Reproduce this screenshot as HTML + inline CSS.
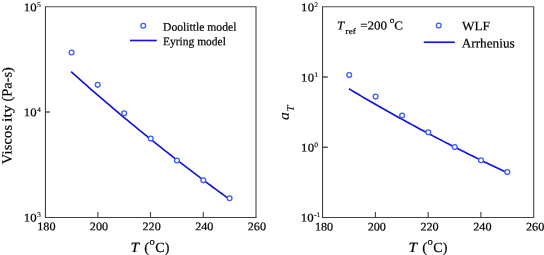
<!DOCTYPE html>
<html><head><meta charset="utf-8"><title>Viscosity and shift factor</title>
<style>html,body{margin:0;padding:0;background:#fff}svg{display:block}text{font-family:"Liberation Serif","DejaVu Serif",serif;fill:#000;stroke:#000;stroke-width:0.2px}.i{font-style:italic}</style></head><body>
<svg width="544" height="255" viewBox="0 0 544 255">
<rect width="544" height="255" fill="#fff"/>
<path d="M45.45 6.70H256.00V217.50" fill="none" stroke="#4c4c4c" stroke-width="1.15"/>
<path d="M45.45 6.70V217.50H256.00" fill="none" stroke="#404040" stroke-width="1.1" stroke-linecap="square"/>
<line x1="97.90" y1="217.50" x2="97.90" y2="212.00" stroke="#404040" stroke-width="1.1"/>
<line x1="150.50" y1="217.50" x2="150.50" y2="212.00" stroke="#404040" stroke-width="1.1"/>
<line x1="203.30" y1="217.50" x2="203.30" y2="212.00" stroke="#404040" stroke-width="1.1"/>
<line x1="45.45" y1="112.00" x2="49.85" y2="112.00" stroke="#404040" stroke-width="1.35"/>
<text transform="translate(46.35,230.20) rotate(0.05) scale(1.050,1)" font-size="11.60" text-anchor="middle">180</text>
<text transform="translate(98.99,230.20) rotate(0.05) scale(1.050,1)" font-size="11.60" text-anchor="middle">200</text>
<text transform="translate(151.63,230.20) rotate(0.05) scale(1.050,1)" font-size="11.60" text-anchor="middle">220</text>
<text transform="translate(204.26,230.20) rotate(0.05) scale(1.050,1)" font-size="11.60" text-anchor="middle">240</text>
<text transform="translate(256.90,230.20) rotate(0.05) scale(1.050,1)" font-size="11.60" text-anchor="middle">260</text>
<path d="M322.55 6.70H533.70V217.50" fill="none" stroke="#4c4c4c" stroke-width="1.15"/>
<path d="M322.55 6.70V217.50H533.70" fill="none" stroke="#404040" stroke-width="1.1" stroke-linecap="square"/>
<line x1="375.40" y1="217.50" x2="375.40" y2="212.00" stroke="#404040" stroke-width="1.1"/>
<line x1="428.15" y1="217.50" x2="428.15" y2="212.00" stroke="#404040" stroke-width="1.1"/>
<line x1="480.90" y1="217.50" x2="480.90" y2="212.00" stroke="#404040" stroke-width="1.1"/>
<line x1="322.55" y1="77.00" x2="327.75" y2="77.00" stroke="#404040" stroke-width="1.35"/>
<line x1="322.55" y1="147.25" x2="327.75" y2="147.25" stroke="#404040" stroke-width="1.35"/>
<text transform="translate(324.00,230.50) rotate(0.05) scale(1.050,1)" font-size="11.60" text-anchor="middle">180</text>
<text transform="translate(376.79,230.50) rotate(0.05) scale(1.050,1)" font-size="11.60" text-anchor="middle">200</text>
<text transform="translate(429.57,230.50) rotate(0.05) scale(1.050,1)" font-size="11.60" text-anchor="middle">220</text>
<text transform="translate(482.36,230.50) rotate(0.05) scale(1.050,1)" font-size="11.60" text-anchor="middle">240</text>
<text transform="translate(535.15,230.50) rotate(0.05) scale(1.050,1)" font-size="11.60" text-anchor="middle">260</text>
<text transform="translate(23.70,11.25) rotate(0.05) scale(1.100,1)" font-size="11.60" letter-spacing="0.20">10</text>
<text transform="translate(36.90,6.95) rotate(0.05) scale(1.120,1)" font-size="7.00" style="stroke-width:0.10px">5</text>
<text transform="translate(23.70,116.20) rotate(0.05) scale(1.100,1)" font-size="11.60" letter-spacing="0.20">10</text>
<text transform="translate(36.90,111.90) rotate(0.05) scale(1.120,1)" font-size="7.00" style="stroke-width:0.10px">4</text>
<text transform="translate(23.70,221.40) rotate(0.05) scale(1.100,1)" font-size="11.60" letter-spacing="0.20">10</text>
<text transform="translate(36.90,217.10) rotate(0.05) scale(1.120,1)" font-size="7.00" style="stroke-width:0.10px">3</text>
<text transform="translate(301.10,11.25) rotate(0.05) scale(1.100,1)" font-size="11.60" letter-spacing="0.20">10</text>
<text transform="translate(314.30,6.95) rotate(0.05) scale(1.120,1)" font-size="7.00" style="stroke-width:0.10px">2</text>
<text transform="translate(301.10,81.40) rotate(0.05) scale(1.100,1)" font-size="11.60" letter-spacing="0.20">10</text>
<text transform="translate(314.30,77.10) rotate(0.05) scale(1.120,1)" font-size="7.00" style="stroke-width:0.10px">1</text>
<text transform="translate(301.10,151.60) rotate(0.05) scale(1.100,1)" font-size="11.60" letter-spacing="0.20">10</text>
<text transform="translate(314.30,147.30) rotate(0.05) scale(1.120,1)" font-size="7.00" style="stroke-width:0.10px">0</text>
<text transform="translate(300.70,221.40) rotate(0.05) scale(1.100,1)" font-size="11.60" letter-spacing="0.20">10</text>
<text transform="translate(313.90,217.10) rotate(0.05) scale(1.120,1)" font-size="7.00" style="stroke-width:0.10px">-1</text>
<polyline points="71.13,71.66 73.76,74.03 76.40,76.38 79.03,78.73 81.66,81.07 84.30,83.40 86.93,85.72 89.56,88.03 92.20,90.33 94.83,92.62 97.46,94.91 100.10,97.18 102.73,99.45 105.36,101.71 107.99,103.96 110.63,106.20 113.26,108.43 115.89,110.65 118.53,112.87 121.16,115.07 123.79,117.27 126.43,119.46 129.06,121.64 131.69,123.82 134.33,125.98 136.96,128.14 139.59,130.29 142.23,132.43 144.86,134.57 147.49,136.69 150.12,138.81 152.76,140.92 155.39,143.03 158.02,145.12 160.66,147.21 163.29,149.29 165.92,151.36 168.56,153.43 171.19,155.49 173.82,157.54 176.46,159.58 179.09,161.62 181.72,163.65 184.36,165.67 186.99,167.69 189.62,169.70 192.25,171.70 194.89,173.69 197.52,175.68 200.15,177.66 202.79,179.64 205.42,181.61 208.05,183.57 210.69,185.52 213.32,187.47 215.95,189.41 218.59,191.34 221.22,193.27 223.85,195.19 226.49,197.11 229.12,199.02" fill="none" stroke="#1212d8" stroke-width="1.65"/>
<polyline points="348.94,88.80 351.58,90.38 354.22,91.95 356.86,93.51 359.50,95.07 362.14,96.62 364.78,98.17 367.42,99.71 370.06,101.24 372.70,102.76 375.34,104.28 377.98,105.79 380.62,107.30 383.26,108.80 385.90,110.29 388.53,111.78 391.17,113.26 393.81,114.73 396.45,116.20 399.09,117.66 401.73,119.12 404.37,120.57 407.01,122.01 409.65,123.45 412.29,124.88 414.93,126.31 417.57,127.73 420.21,129.15 422.85,130.56 425.49,131.96 428.12,133.36 430.76,134.75 433.40,136.13 436.04,137.52 438.68,138.89 441.32,140.26 443.96,141.62 446.60,142.98 449.24,144.34 451.88,145.68 454.52,147.03 457.16,148.36 459.80,149.70 462.44,151.02 465.08,152.34 467.72,153.66 470.36,154.97 472.99,156.28 475.63,157.58 478.27,158.87 480.91,160.17 483.55,161.45 486.19,162.73 488.83,164.01 491.47,165.28 494.11,166.54 496.75,167.81 499.39,169.06 502.03,170.31 504.67,171.56 507.31,172.80" fill="none" stroke="#1212d8" stroke-width="1.65"/>
<circle cx="71.60" cy="52.50" r="2.4" fill="#fff" stroke="#3d5cf5" stroke-width="1.3"/>
<circle cx="97.70" cy="84.85" r="2.4" fill="#fff" stroke="#3d5cf5" stroke-width="1.3"/>
<circle cx="124.20" cy="113.20" r="2.4" fill="#fff" stroke="#3d5cf5" stroke-width="1.3"/>
<circle cx="150.70" cy="138.60" r="2.4" fill="#fff" stroke="#3d5cf5" stroke-width="1.3"/>
<circle cx="176.95" cy="160.50" r="2.4" fill="#fff" stroke="#3d5cf5" stroke-width="1.3"/>
<circle cx="203.30" cy="180.35" r="2.4" fill="#fff" stroke="#3d5cf5" stroke-width="1.3"/>
<circle cx="229.60" cy="198.20" r="2.4" fill="#fff" stroke="#3d5cf5" stroke-width="1.3"/>
<circle cx="349.20" cy="75.10" r="2.4" fill="#fff" stroke="#3d5cf5" stroke-width="1.3"/>
<circle cx="375.60" cy="96.60" r="2.4" fill="#fff" stroke="#3d5cf5" stroke-width="1.3"/>
<circle cx="402.10" cy="115.60" r="2.4" fill="#fff" stroke="#3d5cf5" stroke-width="1.3"/>
<circle cx="428.30" cy="132.25" r="2.4" fill="#fff" stroke="#3d5cf5" stroke-width="1.3"/>
<circle cx="454.70" cy="147.10" r="2.4" fill="#fff" stroke="#3d5cf5" stroke-width="1.3"/>
<circle cx="481.00" cy="160.25" r="2.4" fill="#fff" stroke="#3d5cf5" stroke-width="1.3"/>
<circle cx="507.30" cy="172.10" r="2.4" fill="#fff" stroke="#3d5cf5" stroke-width="1.3"/>
<circle cx="143.25" cy="25.75" r="2.4" fill="#fff" stroke="#3d5cf5" stroke-width="1.3"/>
<line x1="130" y1="40.5" x2="156.75" y2="40.5" stroke="#1212d8" stroke-width="1.65"/>
<text transform="translate(163.00,30.75) rotate(0.05) scale(0.987,1)" font-size="11.80">Doolittle model</text>
<text transform="translate(163.00,45.30) rotate(0.05) scale(0.975,1)" font-size="11.80">Eyring model</text>
<circle cx="438.75" cy="25.5" r="2.4" fill="#fff" stroke="#3d5cf5" stroke-width="1.3"/>
<line x1="423.75" y1="42.25" x2="454.75" y2="42.25" stroke="#1212d8" stroke-width="1.65"/>
<text transform="translate(461.90,30.20) rotate(0.05) scale(1.020,1)" font-size="13.00">WLF</text>
<text transform="translate(461.70,47.40) rotate(0.05) scale(1.020,1)" font-size="13.00">Arrhenius</text>
<text transform="translate(337.10,29.60) rotate(0.05) scale(1.070,1)" font-size="12.20" class="i">T</text>
<text transform="translate(345.60,34.10) rotate(0.05) scale(1.070,1)" font-size="8.50">ref</text>
<text transform="translate(360.20,29.60) rotate(0.05) scale(1.070,1)" font-size="12.20">=200</text>
<text transform="translate(389.70,23.00) rotate(0.05) scale(1.070,1)" font-size="8.80">o</text>
<text transform="translate(394.30,29.60) rotate(0.05) scale(1.070,1)" font-size="12.20">C</text>
<text transform="translate(130.50,251.90) rotate(0.05) scale(1.100,1)" font-size="14.00" class="i">T</text>
<text transform="translate(144.30,251.90) rotate(0.05) scale(1.070,1)" font-size="14.00">(</text>
<text transform="translate(149.40,244.70) rotate(0.05) scale(1.070,1)" font-size="10.00">o</text>
<text transform="translate(155.30,251.90) rotate(0.05) scale(1.000,1)" font-size="14.00">C)</text>
<text transform="translate(408.50,251.90) rotate(0.05) scale(1.100,1)" font-size="14.00" class="i">T</text>
<text transform="translate(422.30,251.90) rotate(0.05) scale(1.070,1)" font-size="14.00">(</text>
<text transform="translate(427.40,244.70) rotate(0.05) scale(1.070,1)" font-size="10.00">o</text>
<text transform="translate(433.30,251.90) rotate(0.05) scale(1.000,1)" font-size="14.00">C)</text>
<text transform="translate(11.60,164.30) rotate(-89.95) scale(1.030,1)" font-size="14.00" letter-spacing="0.20">Viscos</text>
<text transform="translate(11.60,121.90) rotate(-89.95) scale(1.150,1)" font-size="14.00">ity</text>
<text transform="translate(11.60,101.50) rotate(-89.95) scale(1.030,1)" font-size="14.00">(Pa-s)</text>
<text transform="translate(288.80,120.10) rotate(-89.95) scale(1.070,1)" font-size="14.50" class="i" style="stroke-width:0.10px">a</text>
<text transform="translate(293.80,111.40) rotate(-89.95) scale(1.070,1)" font-size="10.30" class="i" style="stroke-width:0.10px">T</text>
</svg></body></html>
